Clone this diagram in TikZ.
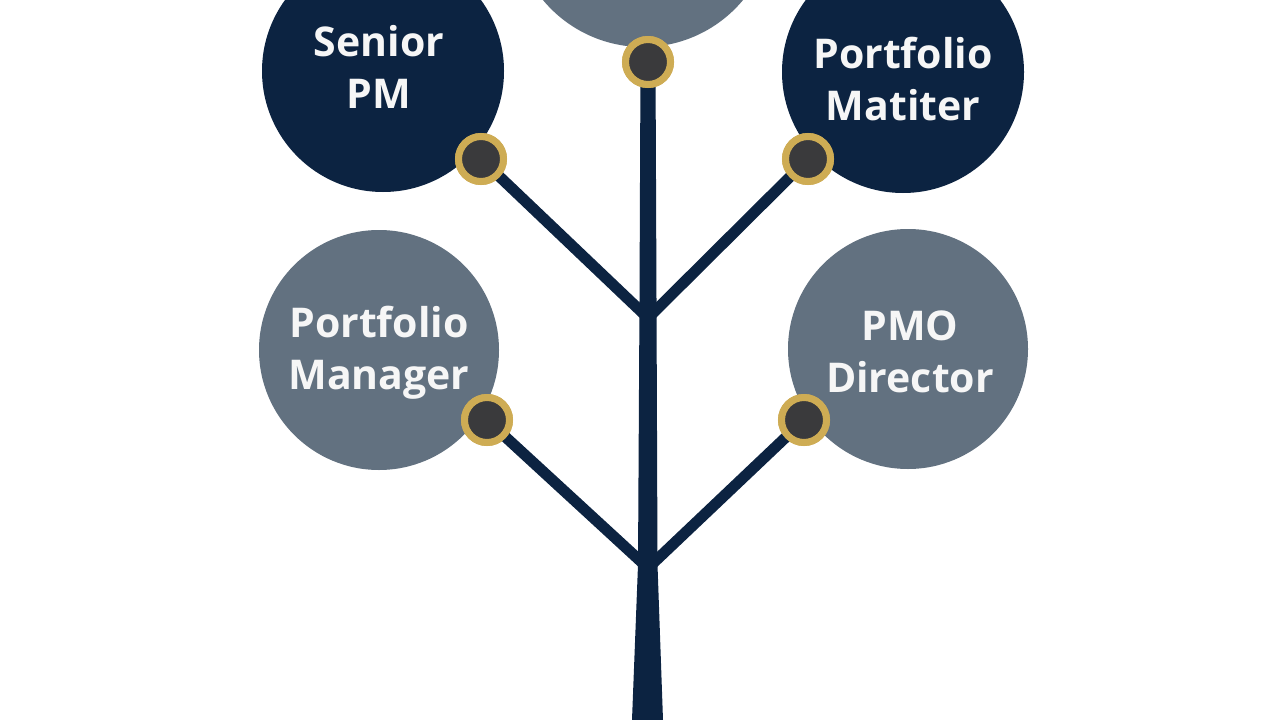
\documentclass[tikz,border=0pt]{standalone}
\usepackage{fontspec}
\setmainfont{Open Sans}[Ligatures=NoCommon]
\definecolor{navy}{RGB}{12,35,65}
\definecolor{slate}{RGB}{98,113,128}
\definecolor{gold}{RGB}{206,172,84}
\definecolor{dotdark}{RGB}{58,58,60}
\definecolor{txtwhite}{RGB}{246,246,246}
\tikzset{
  navycirc/.style={circle, fill=navy, inner sep=0pt, minimum size=242pt},
  slatecirc/.style={circle, fill=slate, inner sep=0pt, minimum size=240pt},
  lbl/.style={align=center, text=txtwhite, inner sep=0pt, font=\fontsize{41}{52}\selectfont\bfseries},
  branch/.style={draw=navy, line width=11pt},
  joint/.style={circle, fill=dotdark, draw=gold, line width=7pt, inner sep=0pt, minimum size=45pt},
}
\begin{document}
\begin{tikzpicture}[x=1pt,y=-1pt]
\useasboundingbox (0,0) rectangle (1280,720);
\fill[white] (0,0) rectangle (1280,720);
% circles
\node[slatecirc, minimum size=260pt] (top) at (643,-83) {};
\node[navycirc] (senior) at (383,71) {};
\node[navycirc] (matiter) at (903,72) {};
\node[slatecirc] (manager) at (379,350) {};
\node[slatecirc] (director) at (908,349) {};
% labels
\node[lbl] (seniorT) at (379,67) {Senior\\PM};
\node[lbl] (matiterT) at (903,79) {Portfolio\\Matiter};
\node[lbl] (managerT) at (379,353) {Portfolio\\Manager};
\node[lbl] (directorT) at (910,352) {PMO\\Director};
% tree
\coordinate (j1) at (648,318);
\coordinate (j2) at (648,568);
\coordinate (base) at (647.5,720);
\fill[navy] (640.5,62) -- (655.5,62) -- (656.5,300) -- (657.5,565) -- (663,720) -- (632,720) -- (638,565) -- (639.5,300) -- cycle;
\node[joint] (dtop) at (648,62) {};
\node[joint] (dsen) at (481,159) {};
\node[joint] (dmat) at (808,159) {};
\node[joint] (dman) at (487,420) {};
\node[joint] (ddir) at (804,420) {};
\draw[branch] (j1) -- (dsen.center);
\draw[branch] (j1) -- (dmat.center);
\draw[branch] (j2) -- (dman.center);
\draw[branch] (j2) -- (ddir.center);
% redraw joints over branch ends
\node[joint] at (dtop) {};
\node[joint] at (dsen) {};
\node[joint] at (dmat) {};
\node[joint] at (dman) {};
\node[joint] at (ddir) {};
\end{tikzpicture}
\end{document}
